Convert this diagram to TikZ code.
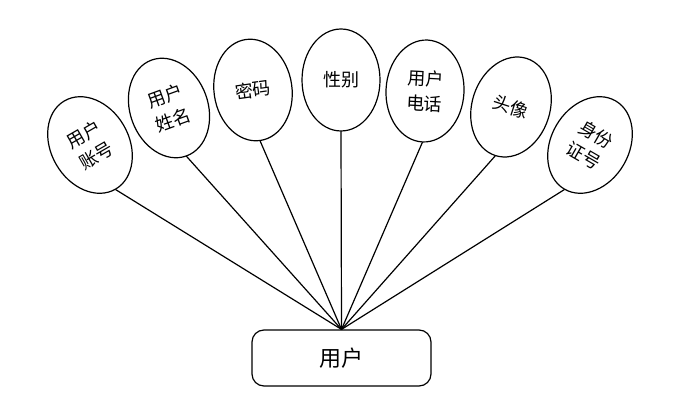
\documentclass[tikz,border=0pt]{standalone}
\usepackage{fontspec}
\setmainfont{Noto Sans CJK SC}
\usetikzlibrary{shapes.geometric}
\begin{document}
\begin{tikzpicture}[x=1pt,y=1pt,line cap=round,line join=round]
  \tikzset{attr/.style={ellipse,draw,line width=1.2pt,fill=white,inner sep=0pt,minimum width=78pt,minimum height=102pt,align=center,font=\fontsize{18}{25}\selectfont},
    entity/.style={rectangle,rounded corners=12pt,draw,line width=1.2pt,fill=white,minimum width=179pt,minimum height=56pt,font=\fontsize{22}{26}\selectfont}}
  \useasboundingbox (0,0) rectangle (684,412);
  \node[entity] (user) at (341.5,54) {用户};
  \node[attr,rotate=30] (acct) at (90,267) {用户\\账号};
  \node[attr,rotate=20] (name) at (169,304) {用户\\姓名};
  \node[attr,rotate=8] (pwd) at (253,322) {密码};
  \node[attr] (sex) at (341,332) {性别};
  \node[attr,rotate=-3] (tel) at (425,321) {用户\\电话};
  \node[attr,rotate=-18] (avatar) at (511,305) {头像};
  \node[attr,rotate=-30] (idno) at (590,267) {身份\\证号};
  \foreach \a in {acct,name,pwd,sex,tel,avatar,idno}
    \draw[line width=1.2pt] (\a.south)--(user.north);
\end{tikzpicture}
\end{document}
